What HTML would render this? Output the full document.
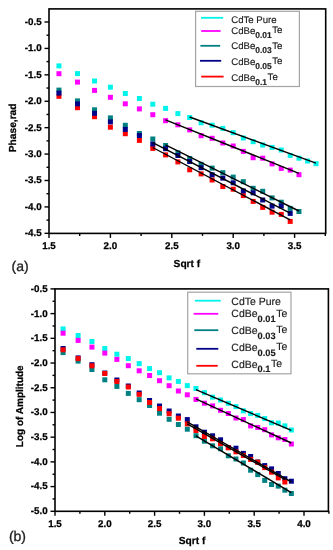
<!DOCTYPE html>
<html><head><meta charset="utf-8"><title>Phase and amplitude plots</title><style>
html,body{margin:0;padding:0;background:#fff;}
body{width:333px;height:550px;overflow:hidden;}
svg{display:block;}
text{font-family:'Liberation Sans', Arial, sans-serif;text-rendering:geometricPrecision;}
.tk{font-size:9.8px;font-weight:bold;fill:#000;stroke:#000;stroke-width:0.25px;}
.at{font-size:10.2px;font-weight:bold;fill:#000;stroke:#000;stroke-width:0.25px;}
.lg{fill:#1a1a1a;stroke:#1a1a1a;stroke-width:0.15px;}
.pl{font-size:14px;fill:#222;stroke:#222;stroke-width:0.3px;}
</style></head><body>
<svg width="333" height="550" viewBox="0 0 333 550">
<rect width="333" height="550" fill="#fff"/>
<rect x="56.46" y="63.4" width="5" height="5" fill="#00f4ea"/>
<rect x="75" y="71.1" width="5" height="5" fill="#00f4ea"/>
<rect x="92.04" y="78.5" width="5" height="5" fill="#00f4ea"/>
<rect x="107.9" y="84.7" width="5" height="5" fill="#00f4ea"/>
<rect x="122.8" y="91" width="5" height="5" fill="#00f4ea"/>
<rect x="136.89" y="96" width="5" height="5" fill="#00f4ea"/>
<rect x="150.29" y="101.7" width="5" height="5" fill="#00f4ea"/>
<rect x="163.1" y="105.9" width="5" height="5" fill="#00f4ea"/>
<rect x="175.38" y="111.1" width="5" height="5" fill="#00f4ea"/>
<rect x="187.2" y="115" width="5" height="5" fill="#00f4ea"/>
<rect x="198.6" y="120.3" width="5" height="5" fill="#00f4ea"/>
<rect x="209.63" y="122.7" width="5" height="5" fill="#00f4ea"/>
<rect x="220.32" y="125.9" width="5" height="5" fill="#00f4ea"/>
<rect x="230.7" y="130.2" width="5" height="5" fill="#00f4ea"/>
<rect x="240.8" y="135.5" width="5" height="5" fill="#00f4ea"/>
<rect x="250.63" y="139.2" width="5" height="5" fill="#00f4ea"/>
<rect x="260.22" y="142.5" width="5" height="5" fill="#00f4ea"/>
<rect x="269.58" y="144.9" width="5" height="5" fill="#00f4ea"/>
<rect x="278.74" y="147.5" width="5" height="5" fill="#00f4ea"/>
<rect x="287.69" y="152.9" width="5" height="5" fill="#00f4ea"/>
<rect x="296.46" y="155.7" width="5" height="5" fill="#00f4ea"/>
<rect x="305.06" y="158.5" width="5" height="5" fill="#00f4ea"/>
<rect x="313.5" y="161.2" width="5" height="5" fill="#00f4ea"/>
<rect x="56.46" y="71.2" width="5" height="5" fill="#ff00ff"/>
<rect x="75" y="79.6" width="5" height="5" fill="#ff00ff"/>
<rect x="92.04" y="87.9" width="5" height="5" fill="#ff00ff"/>
<rect x="107.9" y="94.8" width="5" height="5" fill="#ff00ff"/>
<rect x="122.8" y="101.3" width="5" height="5" fill="#ff00ff"/>
<rect x="136.89" y="106.4" width="5" height="5" fill="#ff00ff"/>
<rect x="150.29" y="112.2" width="5" height="5" fill="#ff00ff"/>
<rect x="163.1" y="118.2" width="5" height="5" fill="#ff00ff"/>
<rect x="175.38" y="122.3" width="5" height="5" fill="#ff00ff"/>
<rect x="187.2" y="127.4" width="5" height="5" fill="#ff00ff"/>
<rect x="198.6" y="133.2" width="5" height="5" fill="#ff00ff"/>
<rect x="209.63" y="135.8" width="5" height="5" fill="#ff00ff"/>
<rect x="220.32" y="140.5" width="5" height="5" fill="#ff00ff"/>
<rect x="230.7" y="143.5" width="5" height="5" fill="#ff00ff"/>
<rect x="240.8" y="148.9" width="5" height="5" fill="#ff00ff"/>
<rect x="250.63" y="155.2" width="5" height="5" fill="#ff00ff"/>
<rect x="260.22" y="155.7" width="5" height="5" fill="#ff00ff"/>
<rect x="269.58" y="161.4" width="5" height="5" fill="#ff00ff"/>
<rect x="278.74" y="165.9" width="5" height="5" fill="#ff00ff"/>
<rect x="287.69" y="167.6" width="5" height="5" fill="#ff00ff"/>
<rect x="296.46" y="172.2" width="5" height="5" fill="#ff00ff"/>
<rect x="56.46" y="87.6" width="5" height="5" fill="#008080"/>
<rect x="75" y="98.4" width="5" height="5" fill="#008080"/>
<rect x="92.04" y="107.3" width="5" height="5" fill="#008080"/>
<rect x="107.9" y="115.4" width="5" height="5" fill="#008080"/>
<rect x="122.8" y="122.8" width="5" height="5" fill="#008080"/>
<rect x="136.89" y="131" width="5" height="5" fill="#008080"/>
<rect x="150.29" y="136.5" width="5" height="5" fill="#008080"/>
<rect x="163.1" y="143" width="5" height="5" fill="#008080"/>
<rect x="175.38" y="150.3" width="5" height="5" fill="#008080"/>
<rect x="187.2" y="156" width="5" height="5" fill="#008080"/>
<rect x="198.6" y="161.8" width="5" height="5" fill="#008080"/>
<rect x="209.63" y="165.6" width="5" height="5" fill="#008080"/>
<rect x="220.32" y="170.2" width="5" height="5" fill="#008080"/>
<rect x="230.7" y="174.6" width="5" height="5" fill="#008080"/>
<rect x="240.8" y="179.2" width="5" height="5" fill="#008080"/>
<rect x="250.63" y="185.8" width="5" height="5" fill="#008080"/>
<rect x="260.22" y="188.8" width="5" height="5" fill="#008080"/>
<rect x="269.58" y="195.4" width="5" height="5" fill="#008080"/>
<rect x="278.74" y="199.7" width="5" height="5" fill="#008080"/>
<rect x="287.69" y="205.9" width="5" height="5" fill="#008080"/>
<rect x="296.46" y="209" width="5" height="5" fill="#008080"/>
<rect x="56.46" y="93.8" width="5" height="5" fill="#ff0000"/>
<rect x="75" y="105.2" width="5" height="5" fill="#ff0000"/>
<rect x="92.04" y="114.2" width="5" height="5" fill="#ff0000"/>
<rect x="107.9" y="124.7" width="5" height="5" fill="#ff0000"/>
<rect x="122.8" y="131.2" width="5" height="5" fill="#ff0000"/>
<rect x="136.89" y="137.9" width="5" height="5" fill="#ff0000"/>
<rect x="150.29" y="145.9" width="5" height="5" fill="#ff0000"/>
<rect x="163.1" y="152.4" width="5" height="5" fill="#ff0000"/>
<rect x="175.38" y="159.4" width="5" height="5" fill="#ff0000"/>
<rect x="187.2" y="167.3" width="5" height="5" fill="#ff0000"/>
<rect x="198.6" y="171.4" width="5" height="5" fill="#ff0000"/>
<rect x="209.63" y="177.5" width="5" height="5" fill="#ff0000"/>
<rect x="220.32" y="184" width="5" height="5" fill="#ff0000"/>
<rect x="230.7" y="186.7" width="5" height="5" fill="#ff0000"/>
<rect x="240.8" y="193.1" width="5" height="5" fill="#ff0000"/>
<rect x="250.63" y="198.9" width="5" height="5" fill="#ff0000"/>
<rect x="260.22" y="204.9" width="5" height="5" fill="#ff0000"/>
<rect x="269.58" y="209.7" width="5" height="5" fill="#ff0000"/>
<rect x="278.74" y="211.9" width="5" height="5" fill="#ff0000"/>
<rect x="287.69" y="218.9" width="5" height="5" fill="#ff0000"/>
<rect x="56.46" y="90.6" width="5" height="5" fill="#000088"/>
<rect x="75" y="101.4" width="5" height="5" fill="#000088"/>
<rect x="92.04" y="110.8" width="5" height="5" fill="#000088"/>
<rect x="107.9" y="119.4" width="5" height="5" fill="#000088"/>
<rect x="122.8" y="126.9" width="5" height="5" fill="#000088"/>
<rect x="136.89" y="133" width="5" height="5" fill="#000088"/>
<rect x="150.29" y="141.5" width="5" height="5" fill="#000088"/>
<rect x="163.1" y="146.2" width="5" height="5" fill="#000088"/>
<rect x="175.38" y="153" width="5" height="5" fill="#000088"/>
<rect x="187.2" y="159" width="5" height="5" fill="#000088"/>
<rect x="198.6" y="165.2" width="5" height="5" fill="#000088"/>
<rect x="209.63" y="172.3" width="5" height="5" fill="#000088"/>
<rect x="220.32" y="175.6" width="5" height="5" fill="#000088"/>
<rect x="230.7" y="180.3" width="5" height="5" fill="#000088"/>
<rect x="240.8" y="188.4" width="5" height="5" fill="#000088"/>
<rect x="250.63" y="190.3" width="5" height="5" fill="#000088"/>
<rect x="260.22" y="197.5" width="5" height="5" fill="#000088"/>
<rect x="269.58" y="203.6" width="5" height="5" fill="#000088"/>
<rect x="278.74" y="203.5" width="5" height="5" fill="#000088"/>
<rect x="287.69" y="210.9" width="5" height="5" fill="#000088"/>
<line x1="189.6" y1="117" x2="315.9" y2="163.2" stroke="#000" stroke-width="1.4"/>
<line x1="165.5" y1="119.9" x2="298.9" y2="173.3" stroke="#000" stroke-width="1.4"/>
<line x1="165.5" y1="144.9" x2="298.9" y2="211" stroke="#000" stroke-width="1.4"/>
<line x1="152.7" y1="147.5" x2="290.1" y2="219.9" stroke="#000" stroke-width="1.4"/>
<line x1="152.7" y1="142.6" x2="290.1" y2="213.1" stroke="#000" stroke-width="1.4"/>
<rect x="49" y="8.9" width="276.7" height="224.5" fill="none" stroke="#000" stroke-width="1.6"/>
<line x1="44.5" y1="22" x2="49" y2="22" stroke="#000" stroke-width="1.4"/>
<text x="41.6" y="24.9" text-anchor="end" class="tk">-0.5</text>
<line x1="44.5" y1="48.41" x2="49" y2="48.41" stroke="#000" stroke-width="1.4"/>
<text x="41.6" y="51.31" text-anchor="end" class="tk">-1.0</text>
<line x1="44.5" y1="74.83" x2="49" y2="74.83" stroke="#000" stroke-width="1.4"/>
<text x="41.6" y="77.73" text-anchor="end" class="tk">-1.5</text>
<line x1="44.5" y1="101.25" x2="49" y2="101.25" stroke="#000" stroke-width="1.4"/>
<text x="41.6" y="104.15" text-anchor="end" class="tk">-2.0</text>
<line x1="44.5" y1="127.66" x2="49" y2="127.66" stroke="#000" stroke-width="1.4"/>
<text x="41.6" y="130.56" text-anchor="end" class="tk">-2.5</text>
<line x1="44.5" y1="154.07" x2="49" y2="154.07" stroke="#000" stroke-width="1.4"/>
<text x="41.6" y="156.97" text-anchor="end" class="tk">-3.0</text>
<line x1="44.5" y1="180.49" x2="49" y2="180.49" stroke="#000" stroke-width="1.4"/>
<text x="41.6" y="183.39" text-anchor="end" class="tk">-3.5</text>
<line x1="44.5" y1="206.91" x2="49" y2="206.91" stroke="#000" stroke-width="1.4"/>
<text x="41.6" y="209.81" text-anchor="end" class="tk">-4.0</text>
<line x1="44.5" y1="233.32" x2="49" y2="233.32" stroke="#000" stroke-width="1.4"/>
<text x="41.6" y="236.22" text-anchor="end" class="tk">-4.5</text>
<line x1="46.5" y1="35.21" x2="49" y2="35.21" stroke="#000" stroke-width="1.4"/>
<line x1="46.5" y1="61.62" x2="49" y2="61.62" stroke="#000" stroke-width="1.4"/>
<line x1="46.5" y1="88.04" x2="49" y2="88.04" stroke="#000" stroke-width="1.4"/>
<line x1="46.5" y1="114.45" x2="49" y2="114.45" stroke="#000" stroke-width="1.4"/>
<line x1="46.5" y1="140.87" x2="49" y2="140.87" stroke="#000" stroke-width="1.4"/>
<line x1="46.5" y1="167.28" x2="49" y2="167.28" stroke="#000" stroke-width="1.4"/>
<line x1="46.5" y1="193.7" x2="49" y2="193.7" stroke="#000" stroke-width="1.4"/>
<line x1="46.5" y1="220.11" x2="49" y2="220.11" stroke="#000" stroke-width="1.4"/>
<line x1="49" y1="233.4" x2="49" y2="237.9" stroke="#000" stroke-width="1.4"/>
<text x="49" y="248.7" text-anchor="middle" class="tk">1.5</text>
<line x1="110.4" y1="233.4" x2="110.4" y2="237.9" stroke="#000" stroke-width="1.4"/>
<text x="110.4" y="248.7" text-anchor="middle" class="tk">2.0</text>
<line x1="171.8" y1="233.4" x2="171.8" y2="237.9" stroke="#000" stroke-width="1.4"/>
<text x="171.8" y="248.7" text-anchor="middle" class="tk">2.5</text>
<line x1="233.2" y1="233.4" x2="233.2" y2="237.9" stroke="#000" stroke-width="1.4"/>
<text x="233.2" y="248.7" text-anchor="middle" class="tk">3.0</text>
<line x1="294.6" y1="233.4" x2="294.6" y2="237.9" stroke="#000" stroke-width="1.4"/>
<text x="294.6" y="248.7" text-anchor="middle" class="tk">3.5</text>
<line x1="79.7" y1="233.4" x2="79.7" y2="235.9" stroke="#000" stroke-width="1.4"/>
<line x1="141.1" y1="233.4" x2="141.1" y2="235.9" stroke="#000" stroke-width="1.4"/>
<line x1="202.5" y1="233.4" x2="202.5" y2="235.9" stroke="#000" stroke-width="1.4"/>
<line x1="263.9" y1="233.4" x2="263.9" y2="235.9" stroke="#000" stroke-width="1.4"/>
<line x1="325.3" y1="233.4" x2="325.3" y2="235.9" stroke="#000" stroke-width="1.4"/>
<rect x="60.58" y="326.4" width="5" height="5" fill="#00f4ea"/>
<rect x="75.61" y="333" width="5" height="5" fill="#00f4ea"/>
<rect x="89.43" y="339" width="5" height="5" fill="#00f4ea"/>
<rect x="102.3" y="346" width="5" height="5" fill="#00f4ea"/>
<rect x="114.38" y="351.7" width="5" height="5" fill="#00f4ea"/>
<rect x="125.81" y="356.1" width="5" height="5" fill="#00f4ea"/>
<rect x="136.68" y="361.1" width="5" height="5" fill="#00f4ea"/>
<rect x="147.07" y="366.1" width="5" height="5" fill="#00f4ea"/>
<rect x="157.03" y="370.2" width="5" height="5" fill="#00f4ea"/>
<rect x="166.62" y="375.4" width="5" height="5" fill="#00f4ea"/>
<rect x="175.87" y="378.9" width="5" height="5" fill="#00f4ea"/>
<rect x="184.81" y="383.1" width="5" height="5" fill="#00f4ea"/>
<rect x="193.48" y="386" width="5" height="5" fill="#00f4ea"/>
<rect x="201.9" y="390.2" width="5" height="5" fill="#00f4ea"/>
<rect x="210.09" y="394.6" width="5" height="5" fill="#00f4ea"/>
<rect x="218.06" y="397.5" width="5" height="5" fill="#00f4ea"/>
<rect x="225.84" y="400.8" width="5" height="5" fill="#00f4ea"/>
<rect x="233.44" y="404.1" width="5" height="5" fill="#00f4ea"/>
<rect x="240.86" y="408.3" width="5" height="5" fill="#00f4ea"/>
<rect x="248.12" y="411.1" width="5" height="5" fill="#00f4ea"/>
<rect x="255.24" y="412.9" width="5" height="5" fill="#00f4ea"/>
<rect x="262.21" y="416.1" width="5" height="5" fill="#00f4ea"/>
<rect x="269.05" y="420.3" width="5" height="5" fill="#00f4ea"/>
<rect x="275.77" y="420.6" width="5" height="5" fill="#00f4ea"/>
<rect x="282.37" y="423.4" width="5" height="5" fill="#00f4ea"/>
<rect x="288.85" y="427.5" width="5" height="5" fill="#00f4ea"/>
<rect x="60.58" y="330.7" width="5" height="5" fill="#ff00ff"/>
<rect x="75.61" y="337.9" width="5" height="5" fill="#ff00ff"/>
<rect x="89.43" y="344.6" width="5" height="5" fill="#ff00ff"/>
<rect x="102.3" y="350.6" width="5" height="5" fill="#ff00ff"/>
<rect x="114.38" y="356.9" width="5" height="5" fill="#ff00ff"/>
<rect x="125.81" y="363.2" width="5" height="5" fill="#ff00ff"/>
<rect x="136.68" y="368.3" width="5" height="5" fill="#ff00ff"/>
<rect x="147.07" y="373" width="5" height="5" fill="#ff00ff"/>
<rect x="157.03" y="378.2" width="5" height="5" fill="#ff00ff"/>
<rect x="166.62" y="383.2" width="5" height="5" fill="#ff00ff"/>
<rect x="175.87" y="388.5" width="5" height="5" fill="#ff00ff"/>
<rect x="184.81" y="392.3" width="5" height="5" fill="#ff00ff"/>
<rect x="193.48" y="396.9" width="5" height="5" fill="#ff00ff"/>
<rect x="201.9" y="400.7" width="5" height="5" fill="#ff00ff"/>
<rect x="210.09" y="403.4" width="5" height="5" fill="#ff00ff"/>
<rect x="218.06" y="407.8" width="5" height="5" fill="#ff00ff"/>
<rect x="225.84" y="411" width="5" height="5" fill="#ff00ff"/>
<rect x="233.44" y="415.5" width="5" height="5" fill="#ff00ff"/>
<rect x="240.86" y="417.1" width="5" height="5" fill="#ff00ff"/>
<rect x="248.12" y="423.4" width="5" height="5" fill="#ff00ff"/>
<rect x="255.24" y="424.9" width="5" height="5" fill="#ff00ff"/>
<rect x="262.21" y="427.2" width="5" height="5" fill="#ff00ff"/>
<rect x="269.05" y="432.4" width="5" height="5" fill="#ff00ff"/>
<rect x="275.77" y="435.3" width="5" height="5" fill="#ff00ff"/>
<rect x="282.37" y="437" width="5" height="5" fill="#ff00ff"/>
<rect x="288.85" y="441.5" width="5" height="5" fill="#ff00ff"/>
<rect x="60.58" y="346" width="5" height="5" fill="#000088"/>
<rect x="75.61" y="355.4" width="5" height="5" fill="#000088"/>
<rect x="89.43" y="362.2" width="5" height="5" fill="#000088"/>
<rect x="102.3" y="370.5" width="5" height="5" fill="#000088"/>
<rect x="114.38" y="377.5" width="5" height="5" fill="#000088"/>
<rect x="125.81" y="383.5" width="5" height="5" fill="#000088"/>
<rect x="136.68" y="390.5" width="5" height="5" fill="#000088"/>
<rect x="147.07" y="398" width="5" height="5" fill="#000088"/>
<rect x="157.03" y="403.5" width="5" height="5" fill="#000088"/>
<rect x="166.62" y="408.5" width="5" height="5" fill="#000088"/>
<rect x="175.87" y="413.5" width="5" height="5" fill="#000088"/>
<rect x="184.81" y="417.1" width="5" height="5" fill="#000088"/>
<rect x="193.48" y="424.3" width="5" height="5" fill="#000088"/>
<rect x="201.9" y="429.7" width="5" height="5" fill="#000088"/>
<rect x="210.09" y="433.3" width="5" height="5" fill="#000088"/>
<rect x="218.06" y="437.3" width="5" height="5" fill="#000088"/>
<rect x="225.84" y="445" width="5" height="5" fill="#000088"/>
<rect x="233.44" y="445.7" width="5" height="5" fill="#000088"/>
<rect x="240.86" y="450.9" width="5" height="5" fill="#000088"/>
<rect x="248.12" y="454" width="5" height="5" fill="#000088"/>
<rect x="255.24" y="459.5" width="5" height="5" fill="#000088"/>
<rect x="262.21" y="463.1" width="5" height="5" fill="#000088"/>
<rect x="269.05" y="466.4" width="5" height="5" fill="#000088"/>
<rect x="275.77" y="471" width="5" height="5" fill="#000088"/>
<rect x="282.37" y="476.2" width="5" height="5" fill="#000088"/>
<rect x="288.85" y="478.7" width="5" height="5" fill="#000088"/>
<rect x="60.58" y="350.1" width="5" height="5" fill="#008080"/>
<rect x="75.61" y="358.6" width="5" height="5" fill="#008080"/>
<rect x="89.43" y="367" width="5" height="5" fill="#008080"/>
<rect x="102.3" y="377.3" width="5" height="5" fill="#008080"/>
<rect x="114.38" y="383.9" width="5" height="5" fill="#008080"/>
<rect x="125.81" y="390.9" width="5" height="5" fill="#008080"/>
<rect x="136.68" y="397.2" width="5" height="5" fill="#008080"/>
<rect x="147.07" y="403" width="5" height="5" fill="#008080"/>
<rect x="157.03" y="410.7" width="5" height="5" fill="#008080"/>
<rect x="166.62" y="416.8" width="5" height="5" fill="#008080"/>
<rect x="175.87" y="422" width="5" height="5" fill="#008080"/>
<rect x="184.81" y="426.7" width="5" height="5" fill="#008080"/>
<rect x="193.48" y="433.2" width="5" height="5" fill="#008080"/>
<rect x="201.9" y="438.7" width="5" height="5" fill="#008080"/>
<rect x="210.09" y="443.3" width="5" height="5" fill="#008080"/>
<rect x="218.06" y="446.3" width="5" height="5" fill="#008080"/>
<rect x="225.84" y="453.3" width="5" height="5" fill="#008080"/>
<rect x="233.44" y="456.5" width="5" height="5" fill="#008080"/>
<rect x="240.86" y="460.5" width="5" height="5" fill="#008080"/>
<rect x="248.12" y="467.7" width="5" height="5" fill="#008080"/>
<rect x="255.24" y="472.1" width="5" height="5" fill="#008080"/>
<rect x="262.21" y="477.9" width="5" height="5" fill="#008080"/>
<rect x="269.05" y="482" width="5" height="5" fill="#008080"/>
<rect x="275.77" y="483.6" width="5" height="5" fill="#008080"/>
<rect x="282.37" y="487.7" width="5" height="5" fill="#008080"/>
<rect x="288.85" y="491" width="5" height="5" fill="#008080"/>
<rect x="60.58" y="347.3" width="5" height="5" fill="#ff0000"/>
<rect x="75.61" y="356.1" width="5" height="5" fill="#ff0000"/>
<rect x="89.43" y="363.3" width="5" height="5" fill="#ff0000"/>
<rect x="102.3" y="371" width="5" height="5" fill="#ff0000"/>
<rect x="114.38" y="379" width="5" height="5" fill="#ff0000"/>
<rect x="125.81" y="384.5" width="5" height="5" fill="#ff0000"/>
<rect x="136.68" y="391.9" width="5" height="5" fill="#ff0000"/>
<rect x="147.07" y="400" width="5" height="5" fill="#ff0000"/>
<rect x="157.03" y="406.1" width="5" height="5" fill="#ff0000"/>
<rect x="166.62" y="411.2" width="5" height="5" fill="#ff0000"/>
<rect x="175.87" y="415.7" width="5" height="5" fill="#ff0000"/>
<rect x="184.81" y="421.4" width="5" height="5" fill="#ff0000"/>
<rect x="193.48" y="428" width="5" height="5" fill="#ff0000"/>
<rect x="201.9" y="434" width="5" height="5" fill="#ff0000"/>
<rect x="210.09" y="436.3" width="5" height="5" fill="#ff0000"/>
<rect x="218.06" y="441.1" width="5" height="5" fill="#ff0000"/>
<rect x="225.84" y="445.3" width="5" height="5" fill="#ff0000"/>
<rect x="233.44" y="449.3" width="5" height="5" fill="#ff0000"/>
<rect x="240.86" y="452.9" width="5" height="5" fill="#ff0000"/>
<rect x="248.12" y="456.9" width="5" height="5" fill="#ff0000"/>
<rect x="255.24" y="459.7" width="5" height="5" fill="#ff0000"/>
<rect x="262.21" y="465.1" width="5" height="5" fill="#ff0000"/>
<rect x="269.05" y="469.7" width="5" height="5" fill="#ff0000"/>
<rect x="275.77" y="475.4" width="5" height="5" fill="#ff0000"/>
<rect x="282.37" y="479.5" width="5" height="5" fill="#ff0000"/>
<line x1="195.9" y1="389.6" x2="291.3" y2="430.4" stroke="#000" stroke-width="1.4"/>
<line x1="195.9" y1="398.9" x2="291.3" y2="443" stroke="#000" stroke-width="1.4"/>
<line x1="187.2" y1="421.9" x2="291.3" y2="481.9" stroke="#000" stroke-width="1.4"/>
<line x1="195.9" y1="435.8" x2="291.3" y2="492.6" stroke="#000" stroke-width="1.4"/>
<line x1="187.2" y1="423.9" x2="284.8" y2="479.5" stroke="#000" stroke-width="1.4"/>
<rect x="55" y="288.9" width="273.4" height="222.4" fill="none" stroke="#000" stroke-width="1.6"/>
<line x1="50.5" y1="288.9" x2="55" y2="288.9" stroke="#000" stroke-width="1.4"/>
<text x="47.6" y="291.8" text-anchor="end" class="tk">-0.5</text>
<line x1="50.5" y1="313.61" x2="55" y2="313.61" stroke="#000" stroke-width="1.4"/>
<text x="47.6" y="316.51" text-anchor="end" class="tk">-1.0</text>
<line x1="50.5" y1="338.32" x2="55" y2="338.32" stroke="#000" stroke-width="1.4"/>
<text x="47.6" y="341.22" text-anchor="end" class="tk">-1.5</text>
<line x1="50.5" y1="363.03" x2="55" y2="363.03" stroke="#000" stroke-width="1.4"/>
<text x="47.6" y="365.93" text-anchor="end" class="tk">-2.0</text>
<line x1="50.5" y1="387.74" x2="55" y2="387.74" stroke="#000" stroke-width="1.4"/>
<text x="47.6" y="390.64" text-anchor="end" class="tk">-2.5</text>
<line x1="50.5" y1="412.45" x2="55" y2="412.45" stroke="#000" stroke-width="1.4"/>
<text x="47.6" y="415.35" text-anchor="end" class="tk">-3.0</text>
<line x1="50.5" y1="437.16" x2="55" y2="437.16" stroke="#000" stroke-width="1.4"/>
<text x="47.6" y="440.06" text-anchor="end" class="tk">-3.5</text>
<line x1="50.5" y1="461.87" x2="55" y2="461.87" stroke="#000" stroke-width="1.4"/>
<text x="47.6" y="464.77" text-anchor="end" class="tk">-4.0</text>
<line x1="50.5" y1="486.58" x2="55" y2="486.58" stroke="#000" stroke-width="1.4"/>
<text x="47.6" y="489.48" text-anchor="end" class="tk">-4.5</text>
<line x1="50.5" y1="511.29" x2="55" y2="511.29" stroke="#000" stroke-width="1.4"/>
<text x="47.6" y="514.19" text-anchor="end" class="tk">-5.0</text>
<line x1="52.5" y1="301.25" x2="55" y2="301.25" stroke="#000" stroke-width="1.4"/>
<line x1="52.5" y1="325.96" x2="55" y2="325.96" stroke="#000" stroke-width="1.4"/>
<line x1="52.5" y1="350.67" x2="55" y2="350.67" stroke="#000" stroke-width="1.4"/>
<line x1="52.5" y1="375.38" x2="55" y2="375.38" stroke="#000" stroke-width="1.4"/>
<line x1="52.5" y1="400.09" x2="55" y2="400.09" stroke="#000" stroke-width="1.4"/>
<line x1="52.5" y1="424.8" x2="55" y2="424.8" stroke="#000" stroke-width="1.4"/>
<line x1="52.5" y1="449.51" x2="55" y2="449.51" stroke="#000" stroke-width="1.4"/>
<line x1="52.5" y1="474.23" x2="55" y2="474.23" stroke="#000" stroke-width="1.4"/>
<line x1="52.5" y1="498.93" x2="55" y2="498.93" stroke="#000" stroke-width="1.4"/>
<line x1="55" y1="511.3" x2="55" y2="515.8" stroke="#000" stroke-width="1.4"/>
<text x="55" y="526.6" text-anchor="middle" class="tk">1.5</text>
<line x1="104.8" y1="511.3" x2="104.8" y2="515.8" stroke="#000" stroke-width="1.4"/>
<text x="104.8" y="526.6" text-anchor="middle" class="tk">2.0</text>
<line x1="154.6" y1="511.3" x2="154.6" y2="515.8" stroke="#000" stroke-width="1.4"/>
<text x="154.6" y="526.6" text-anchor="middle" class="tk">2.5</text>
<line x1="204.4" y1="511.3" x2="204.4" y2="515.8" stroke="#000" stroke-width="1.4"/>
<text x="204.4" y="526.6" text-anchor="middle" class="tk">3.0</text>
<line x1="254.2" y1="511.3" x2="254.2" y2="515.8" stroke="#000" stroke-width="1.4"/>
<text x="254.2" y="526.6" text-anchor="middle" class="tk">3.5</text>
<line x1="304" y1="511.3" x2="304" y2="515.8" stroke="#000" stroke-width="1.4"/>
<text x="304" y="526.6" text-anchor="middle" class="tk">4.0</text>
<line x1="79.9" y1="511.3" x2="79.9" y2="513.8" stroke="#000" stroke-width="1.4"/>
<line x1="129.7" y1="511.3" x2="129.7" y2="513.8" stroke="#000" stroke-width="1.4"/>
<line x1="179.5" y1="511.3" x2="179.5" y2="513.8" stroke="#000" stroke-width="1.4"/>
<line x1="229.3" y1="511.3" x2="229.3" y2="513.8" stroke="#000" stroke-width="1.4"/>
<line x1="279.1" y1="511.3" x2="279.1" y2="513.8" stroke="#000" stroke-width="1.4"/>
<line x1="328.9" y1="511.3" x2="328.9" y2="513.8" stroke="#000" stroke-width="1.4"/>
<rect x="195.6" y="11.3" width="103.8" height="75.2" fill="#fff" stroke="#a4a4a4" stroke-width="1.2"/>
<line x1="201" y1="17.8" x2="223.2" y2="17.8" stroke="#00f4ea" stroke-width="1.8"/>
<text x="231.3" y="22.5" class="lg" style="font-size:9.6px">CdTe Pure</text>
<line x1="201.2" y1="31" x2="220.6" y2="31" stroke="#ff00ff" stroke-width="1.8"/>
<text x="231.3" y="33.7" class="lg" style="font-size:9.6px">CdBe<tspan dy="4.03" style="font-weight:bold;font-size:8.45px">0.01</tspan><tspan dx="0.58" dy="-4.8">Te</tspan></text>
<line x1="200.4" y1="45.8" x2="220.2" y2="45.8" stroke="#008080" stroke-width="1.8"/>
<text x="231.3" y="49.3" class="lg" style="font-size:9.6px">CdBe<tspan dy="4.03" style="font-weight:bold;font-size:8.45px">0.03</tspan><tspan dx="0.58" dy="-4.8">Te</tspan></text>
<line x1="200" y1="60.8" x2="221.2" y2="60.8" stroke="#000088" stroke-width="1.8"/>
<text x="231.3" y="64.8" class="lg" style="font-size:9.6px">CdBe<tspan dy="4.03" style="font-weight:bold;font-size:8.45px">0.05</tspan><tspan dx="0.58" dy="-4.8">Te</tspan></text>
<line x1="201.2" y1="76.6" x2="223.6" y2="76.6" stroke="#ff0000" stroke-width="1.8"/>
<text x="231.3" y="80.6" class="lg" style="font-size:9.6px">CdBe<tspan dy="4.03" style="font-weight:bold;font-size:8.45px">0.1</tspan><tspan dx="0.58" dy="-4.8">Te</tspan></text>
<rect x="187.7" y="292.2" width="103.3" height="81.6" fill="#fff" stroke="#a4a4a4" stroke-width="1.2"/>
<line x1="194.9" y1="300.7" x2="220.7" y2="300.7" stroke="#00f4ea" stroke-width="1.8"/>
<text x="231.3" y="304.9" class="lg" style="font-size:10.5px">CdTe Pure</text>
<line x1="193.6" y1="313.8" x2="218.3" y2="313.8" stroke="#ff00ff" stroke-width="1.8"/>
<text x="231.3" y="317.4" class="lg" style="font-size:10.5px">CdBe<tspan dy="4.41" style="font-weight:bold;font-size:9.24px">0.01</tspan><tspan dx="0.63" dy="-5.25">Te</tspan></text>
<line x1="194.3" y1="330.2" x2="218.3" y2="330.2" stroke="#008080" stroke-width="1.8"/>
<text x="231.3" y="334.2" class="lg" style="font-size:10.5px">CdBe<tspan dy="4.41" style="font-weight:bold;font-size:9.24px">0.03</tspan><tspan dx="0.63" dy="-5.25">Te</tspan></text>
<line x1="196.3" y1="348.8" x2="218.3" y2="348.8" stroke="#000088" stroke-width="1.8"/>
<text x="231.3" y="351.1" class="lg" style="font-size:10.5px">CdBe<tspan dy="4.41" style="font-weight:bold;font-size:9.24px">0.05</tspan><tspan dx="0.63" dy="-5.25">Te</tspan></text>
<line x1="196.3" y1="365.8" x2="217.7" y2="365.8" stroke="#ff0000" stroke-width="1.8"/>
<text x="231.3" y="368" class="lg" style="font-size:10.5px">CdBe<tspan dy="4.41" style="font-weight:bold;font-size:9.24px">0.1</tspan><tspan dx="0.63" dy="-5.25">Te</tspan></text>
<text x="186.9" y="266.5" text-anchor="middle" class="at">Sqrt f</text>
<text x="192" y="543.8" text-anchor="middle" class="at">Sqrt f</text>
<text transform="translate(16.1,127.85) rotate(-90)" text-anchor="middle" class="at" style="font-size:10.2px">Phase,rad</text>
<text transform="translate(23.3,406.25) rotate(-90)" text-anchor="middle" class="at" style="font-size:10px">Log of Amplitude</text>
<text x="11.6" y="271.0" class="pl">(a)</text>
<text x="8.9" y="541.4" class="pl">(b)</text>
</svg>
</body></html>
